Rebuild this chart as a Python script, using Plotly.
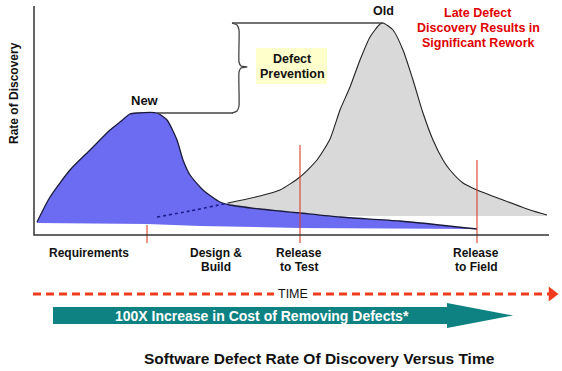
import plotly.graph_objects as go

# ---- data (x = time position, y = vertical position, top = 0) ----
new_time = [37, 50, 70, 90, 110, 120, 130, 137, 157, 167, 177, 183, 190, 203, 220, 230, 260, 280, 300, 340, 400, 477]
new_rate = [222, 197, 170, 150, 130, 122, 114, 113, 113, 120, 140, 160, 175, 190, 202, 205, 209, 211, 213, 217, 221, 229]
new_base_time = [37, 147, 200, 300, 477]
new_base_rate = [223, 224, 226, 228, 229]

old_time = [157, 190, 228, 260, 280, 300, 317, 330, 340, 350, 360, 370, 380, 383, 393, 403, 413, 423, 433, 443, 450, 463, 477, 503, 530, 547]
old_rate = [217, 211, 203, 196, 190, 177, 160, 139, 110, 87, 60, 37, 24, 23, 30, 50, 80, 113, 140, 160, 170, 183, 190, 200, 210, 215]
old_base = 216
crossing_time = 228

milestone_time = [147, 300, 477]
milestone_top = [225, 145, 160]
milestone_bottom = 243

phase_time = [89, 216, 299, 476]
phase_labels = [["Requirements"], ["Design &", "Build"], ["Release", "to Test"], ["Release", "to Field"]]

FONT = "Liberation Sans, Arial, sans-serif"

fig = go.Figure()

# Old curve fill
fig.add_trace(go.Scatter(x=[old_time[0]] + old_time + [old_time[-1]],
                         y=[old_base] + old_rate + [old_base],
                         mode="lines", line=dict(width=0, shape="spline", smoothing=0.6),
                         fill="toself", fillcolor="#d9d9d9", hoverinfo="skip"))
# New curve: base then top filled to base
fig.add_trace(go.Scatter(x=new_base_time, y=new_base_rate, mode="lines",
                         line=dict(width=0), hoverinfo="skip"))
fig.add_trace(go.Scatter(x=new_time, y=new_rate, mode="lines",
                         line=dict(color="#1a1a3a", width=1.3, shape="spline", smoothing=0.6),
                         fill="tonexty", fillcolor="#6c6cf2", hoverinfo="skip"))
# Old curve outline: hidden part (dotted navy) and visible part
i_cross = old_time.index(crossing_time)
fig.add_trace(go.Scatter(x=old_time[:i_cross + 1], y=old_rate[:i_cross + 1], mode="lines",
                         line=dict(color="#1c1c8c", width=1.6, dash="dot", shape="spline", smoothing=0.6),
                         hoverinfo="skip"))
fig.add_trace(go.Scatter(x=old_time[i_cross:], y=old_rate[i_cross:], mode="lines",
                         line=dict(color="#222222", width=1.1, shape="spline", smoothing=0.6),
                         hoverinfo="skip"))

# milestone red lines
mx, my = [], []
for t, top in zip(milestone_time, milestone_top):
    mx += [t, t, None]
    my += [top, milestone_bottom, None]
fig.add_trace(go.Scatter(x=mx, y=my, mode="lines", line=dict(color="#d8402a", width=1.1), hoverinfo="skip"))

# axes lines
fig.add_trace(go.Scatter(x=[34, 34, 549], y=[6, 235, 235], mode="lines",
                         line=dict(color="#333333", width=1.5), hoverinfo="skip"))

# bracket lines (from new peak to old peak)
fig.add_trace(go.Scatter(x=[new_time[8], 233, None, 232, old_time[13]],
                         y=[new_rate[8], new_rate[8], None, old_rate[13], old_rate[13]],
                         mode="lines", line=dict(color="#444444", width=1.3), hoverinfo="skip"))
fig.add_trace(go.Scatter(x=[232, 237, 239, 239, 241, 247, 241, 239, 239, 237, 232],
                         y=[23, 25, 30, 62, 66, 67, 68, 72, 106, 111, 113],
                         mode="lines", line=dict(color="#444444", width=1.3, shape="spline", smoothing=0.5),
                         hoverinfo="skip"))

# dashed TIME line
fig.add_trace(go.Scatter(x=[33, 274, None, 313, 550], y=[294, 294, None, 294, 294], mode="lines",
                         line=dict(color="#f03c1e", width=3, dash="8px,5px"), hoverinfo="skip"))
fig.add_trace(go.Scatter(x=[552], y=[294], mode="markers",
                         marker=dict(symbol="triangle-right", size=13, color="#f03c1e"), hoverinfo="skip"))

shapes = [
    dict(type="rect", xref="x", yref="y", x0=256, x1=327, y0=48, y1=84,
         fillcolor="#ffffcc", line=dict(width=0), layer="below"),
    dict(type="path", xref="x", yref="y",
         path="M 53 307 L 447 307 L 447 303 L 513 315.5 L 447 328 L 447 324 L 53 324 Z",
         fillcolor="#0e8282", line=dict(width=0)),
]

ann = []
def txt(x, y, s, size=12, color="#111111", bold=True, angle=0):
    ann.append(dict(x=x, y=y, xref="x", yref="y", text=f"<b>{s}</b>" if bold else s,
                    showarrow=False, textangle=angle,
                    font=dict(family=FONT, size=size, color=color),
                    xanchor="center", yanchor="middle"))

txt(14, 93, "Rate of Discovery", 12, angle=-90)
txt(145, 100, "New", 13)
txt(383, 11, "Old", 12.5)
txt(292, 59, "Defect", 12.5)
txt(292, 74, "Prevention", 12.5)
for i, line in enumerate(["Late Defect", "Discovery Results in", "Significant Rework"]):
    txt(478, 13 + 15 * i, line, 12.5, color="#e00000")
for t, lines in zip(phase_time, phase_labels):
    for i, line in enumerate(lines):
        txt(t, 253 + 14 * i, line, 12)
txt(293, 294, "TIME", 12.5, bold=False)
txt(262, 316, "100X Increase in Cost of Removing Defects*", 14, color="#ffffff")
txt(319, 358, "Software Defect Rate Of Discovery Versus Time", 15.5)

fig.update_layout(
    width=562, height=371, margin=dict(l=0, r=0, t=0, b=0),
    paper_bgcolor="white", plot_bgcolor="white", showlegend=False,
    xaxis=dict(range=[0, 562], visible=False, fixedrange=True),
    yaxis=dict(range=[371, 0], visible=False, fixedrange=True),
    shapes=shapes, annotations=ann,
)
fig.write_html("out.html", config={"displayModeBar": False},
               post_script="document.body.style.margin='0';document.body.style.overflow='hidden';")
